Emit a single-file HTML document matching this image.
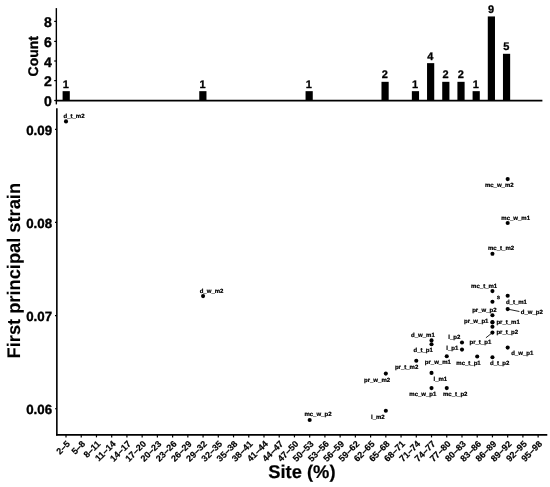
<!DOCTYPE html>
<html lang="en"><head><meta charset="utf-8"><title>Site (%) vs First principal strain</title>
<style>html,body{margin:0;padding:0;background:#fff}body{width:550px;height:487px;overflow:hidden}svg{display:block}text{font-family:"Liberation Sans",sans-serif;font-weight:bold;fill:#000;text-rendering:geometricPrecision;stroke:#000;stroke-width:.3px;stroke-linejoin:round}.s{stroke-width:.24px}.t{stroke-width:.1px}.t2{stroke-width:.2px}.k{stroke-width:.38px}.x{stroke-width:.18px}</style></head><body>
<svg width="550" height="487" viewBox="0 0 550 487">
<rect width="550" height="487" fill="#fff"/>
<g id="top">
<line x1="56.35" y1="8.1" x2="56.35" y2="104.4" stroke="#000" stroke-width="1.4"/>
<line x1="55.8" y1="100.6" x2="542.4" y2="100.6" stroke="#000" stroke-width="1.8"/>
<line x1="54.2" y1="100.5" x2="56.35" y2="100.5" stroke="#000" stroke-width="1.2"/>
<text class="k" x="51.8" y="106.0" font-size="14" text-anchor="end">0</text>
<line x1="54.2" y1="80.6" x2="56.35" y2="80.6" stroke="#000" stroke-width="1.2"/>
<text class="k" x="51.8" y="86.1" font-size="14" text-anchor="end">2</text>
<line x1="54.2" y1="61.0" x2="56.35" y2="61.0" stroke="#000" stroke-width="1.2"/>
<text class="k" x="51.8" y="66.5" font-size="14" text-anchor="end">4</text>
<line x1="54.2" y1="41.4" x2="56.35" y2="41.4" stroke="#000" stroke-width="1.2"/>
<text class="k" x="51.8" y="46.9" font-size="14" text-anchor="end">6</text>
<line x1="54.2" y1="21.4" x2="56.35" y2="21.4" stroke="#000" stroke-width="1.2"/>
<text class="k" x="51.8" y="26.9" font-size="14" text-anchor="end">8</text>
<rect x="62.60" y="91.16" width="7.2" height="9.34" fill="#000"/>
<text x="65.90" y="87.66" font-size="11" text-anchor="middle">1</text>
<rect x="199.27" y="91.16" width="7.2" height="9.34" fill="#000"/>
<text x="202.56" y="87.66" font-size="11" text-anchor="middle">1</text>
<rect x="305.56" y="91.16" width="7.2" height="9.34" fill="#000"/>
<text x="308.86" y="87.66" font-size="11" text-anchor="middle">1</text>
<rect x="381.48" y="81.82" width="7.2" height="18.68" fill="#000"/>
<text x="384.78" y="78.32" font-size="11" text-anchor="middle">2</text>
<rect x="411.85" y="91.16" width="7.2" height="9.34" fill="#000"/>
<text x="415.15" y="87.66" font-size="11" text-anchor="middle">1</text>
<rect x="427.04" y="63.14" width="7.2" height="37.36" fill="#000"/>
<text x="430.34" y="59.64" font-size="11" text-anchor="middle">4</text>
<rect x="442.22" y="81.82" width="7.2" height="18.68" fill="#000"/>
<text x="445.52" y="78.32" font-size="11" text-anchor="middle">2</text>
<rect x="457.41" y="81.82" width="7.2" height="18.68" fill="#000"/>
<text x="460.71" y="78.32" font-size="11" text-anchor="middle">2</text>
<rect x="472.59" y="91.16" width="7.2" height="9.34" fill="#000"/>
<text x="475.89" y="87.66" font-size="11" text-anchor="middle">1</text>
<rect x="487.78" y="16.44" width="7.2" height="84.06" fill="#000"/>
<text x="491.08" y="12.94" font-size="11" text-anchor="middle">9</text>
<rect x="502.96" y="53.80" width="7.2" height="46.70" fill="#000"/>
<text x="506.26" y="50.30" font-size="11" text-anchor="middle">5</text>
<text transform="translate(38.4,56.2) rotate(-90)" font-size="14" text-anchor="middle">Count</text>
</g>
<g id="bottom">
<line x1="56.85" y1="108.2" x2="56.85" y2="435.5" stroke="#000" stroke-width="1.6"/>
<line x1="56.05" y1="434.8" x2="547.3" y2="434.8" stroke="#000" stroke-width="1.7"/>
<line x1="55.0" y1="129.3" x2="57" y2="129.3" stroke="#000" stroke-width="1.2"/>
<text class="k" x="52.1" y="134.80" font-size="13.3" text-anchor="end">0.09</text>
<line x1="55.0" y1="222.45" x2="57" y2="222.45" stroke="#000" stroke-width="1.2"/>
<text class="k" x="52.1" y="227.95" font-size="13.3" text-anchor="end">0.08</text>
<line x1="55.0" y1="315.6" x2="57" y2="315.6" stroke="#000" stroke-width="1.2"/>
<text class="k" x="52.1" y="321.10" font-size="13.3" text-anchor="end">0.07</text>
<line x1="55.0" y1="408.75" x2="57" y2="408.75" stroke="#000" stroke-width="1.2"/>
<text class="k" x="52.1" y="414.25" font-size="13.3" text-anchor="end">0.06</text>
<line x1="66.00" y1="434.75" x2="66.00" y2="437.4" stroke="#000" stroke-width="1.2"/>
<text transform="translate(70.60,444.40) rotate(-45)" class="x" font-size="9.05" text-anchor="end">2–5</text>
<line x1="81.23" y1="434.75" x2="81.23" y2="437.4" stroke="#000" stroke-width="1.2"/>
<text transform="translate(85.83,444.40) rotate(-45)" class="x" font-size="9.05" text-anchor="end">5–8</text>
<line x1="96.46" y1="434.75" x2="96.46" y2="437.4" stroke="#000" stroke-width="1.2"/>
<text transform="translate(101.06,444.40) rotate(-45)" class="x" font-size="9.05" text-anchor="end">8–11</text>
<line x1="111.69" y1="434.75" x2="111.69" y2="437.4" stroke="#000" stroke-width="1.2"/>
<text transform="translate(116.29,444.40) rotate(-45)" class="x" font-size="9.05" text-anchor="end">11–14</text>
<line x1="126.92" y1="434.75" x2="126.92" y2="437.4" stroke="#000" stroke-width="1.2"/>
<text transform="translate(131.52,444.40) rotate(-45)" class="x" font-size="9.05" text-anchor="end">14–17</text>
<line x1="142.15" y1="434.75" x2="142.15" y2="437.4" stroke="#000" stroke-width="1.2"/>
<text transform="translate(146.75,444.40) rotate(-45)" class="x" font-size="9.05" text-anchor="end">17–20</text>
<line x1="157.38" y1="434.75" x2="157.38" y2="437.4" stroke="#000" stroke-width="1.2"/>
<text transform="translate(161.98,444.40) rotate(-45)" class="x" font-size="9.05" text-anchor="end">20–23</text>
<line x1="172.61" y1="434.75" x2="172.61" y2="437.4" stroke="#000" stroke-width="1.2"/>
<text transform="translate(177.21,444.40) rotate(-45)" class="x" font-size="9.05" text-anchor="end">23–26</text>
<line x1="187.84" y1="434.75" x2="187.84" y2="437.4" stroke="#000" stroke-width="1.2"/>
<text transform="translate(192.44,444.40) rotate(-45)" class="x" font-size="9.05" text-anchor="end">26–29</text>
<line x1="203.07" y1="434.75" x2="203.07" y2="437.4" stroke="#000" stroke-width="1.2"/>
<text transform="translate(207.67,444.40) rotate(-45)" class="x" font-size="9.05" text-anchor="end">29–32</text>
<line x1="218.30" y1="434.75" x2="218.30" y2="437.4" stroke="#000" stroke-width="1.2"/>
<text transform="translate(222.90,444.40) rotate(-45)" class="x" font-size="9.05" text-anchor="end">32–35</text>
<line x1="233.53" y1="434.75" x2="233.53" y2="437.4" stroke="#000" stroke-width="1.2"/>
<text transform="translate(238.13,444.40) rotate(-45)" class="x" font-size="9.05" text-anchor="end">35–38</text>
<line x1="248.76" y1="434.75" x2="248.76" y2="437.4" stroke="#000" stroke-width="1.2"/>
<text transform="translate(253.36,444.40) rotate(-45)" class="x" font-size="9.05" text-anchor="end">38–41</text>
<line x1="263.99" y1="434.75" x2="263.99" y2="437.4" stroke="#000" stroke-width="1.2"/>
<text transform="translate(268.59,444.40) rotate(-45)" class="x" font-size="9.05" text-anchor="end">41–44</text>
<line x1="279.22" y1="434.75" x2="279.22" y2="437.4" stroke="#000" stroke-width="1.2"/>
<text transform="translate(283.82,444.40) rotate(-45)" class="x" font-size="9.05" text-anchor="end">44–47</text>
<line x1="294.45" y1="434.75" x2="294.45" y2="437.4" stroke="#000" stroke-width="1.2"/>
<text transform="translate(299.05,444.40) rotate(-45)" class="x" font-size="9.05" text-anchor="end">47–50</text>
<line x1="309.68" y1="434.75" x2="309.68" y2="437.4" stroke="#000" stroke-width="1.2"/>
<text transform="translate(314.28,444.40) rotate(-45)" class="x" font-size="9.05" text-anchor="end">50–53</text>
<line x1="324.91" y1="434.75" x2="324.91" y2="437.4" stroke="#000" stroke-width="1.2"/>
<text transform="translate(329.51,444.40) rotate(-45)" class="x" font-size="9.05" text-anchor="end">53–56</text>
<line x1="340.14" y1="434.75" x2="340.14" y2="437.4" stroke="#000" stroke-width="1.2"/>
<text transform="translate(344.74,444.40) rotate(-45)" class="x" font-size="9.05" text-anchor="end">56–59</text>
<line x1="355.37" y1="434.75" x2="355.37" y2="437.4" stroke="#000" stroke-width="1.2"/>
<text transform="translate(359.97,444.40) rotate(-45)" class="x" font-size="9.05" text-anchor="end">59–62</text>
<line x1="370.60" y1="434.75" x2="370.60" y2="437.4" stroke="#000" stroke-width="1.2"/>
<text transform="translate(375.20,444.40) rotate(-45)" class="x" font-size="9.05" text-anchor="end">62–65</text>
<line x1="385.83" y1="434.75" x2="385.83" y2="437.4" stroke="#000" stroke-width="1.2"/>
<text transform="translate(390.43,444.40) rotate(-45)" class="x" font-size="9.05" text-anchor="end">65–68</text>
<line x1="401.06" y1="434.75" x2="401.06" y2="437.4" stroke="#000" stroke-width="1.2"/>
<text transform="translate(405.66,444.40) rotate(-45)" class="x" font-size="9.05" text-anchor="end">68–71</text>
<line x1="416.29" y1="434.75" x2="416.29" y2="437.4" stroke="#000" stroke-width="1.2"/>
<text transform="translate(420.89,444.40) rotate(-45)" class="x" font-size="9.05" text-anchor="end">71–74</text>
<line x1="431.52" y1="434.75" x2="431.52" y2="437.4" stroke="#000" stroke-width="1.2"/>
<text transform="translate(436.12,444.40) rotate(-45)" class="x" font-size="9.05" text-anchor="end">74–77</text>
<line x1="446.75" y1="434.75" x2="446.75" y2="437.4" stroke="#000" stroke-width="1.2"/>
<text transform="translate(451.35,444.40) rotate(-45)" class="x" font-size="9.05" text-anchor="end">77–80</text>
<line x1="461.98" y1="434.75" x2="461.98" y2="437.4" stroke="#000" stroke-width="1.2"/>
<text transform="translate(466.58,444.40) rotate(-45)" class="x" font-size="9.05" text-anchor="end">80–83</text>
<line x1="477.21" y1="434.75" x2="477.21" y2="437.4" stroke="#000" stroke-width="1.2"/>
<text transform="translate(481.81,444.40) rotate(-45)" class="x" font-size="9.05" text-anchor="end">83–86</text>
<line x1="492.44" y1="434.75" x2="492.44" y2="437.4" stroke="#000" stroke-width="1.2"/>
<text transform="translate(497.04,444.40) rotate(-45)" class="x" font-size="9.05" text-anchor="end">86–89</text>
<line x1="507.67" y1="434.75" x2="507.67" y2="437.4" stroke="#000" stroke-width="1.2"/>
<text transform="translate(512.27,444.40) rotate(-45)" class="x" font-size="9.05" text-anchor="end">89–92</text>
<line x1="522.90" y1="434.75" x2="522.90" y2="437.4" stroke="#000" stroke-width="1.2"/>
<text transform="translate(527.50,444.40) rotate(-45)" class="x" font-size="9.05" text-anchor="end">92–95</text>
<line x1="538.13" y1="434.75" x2="538.13" y2="437.4" stroke="#000" stroke-width="1.2"/>
<text transform="translate(542.73,444.40) rotate(-45)" class="x" font-size="9.05" text-anchor="end">95–98</text>
<text class="t" transform="translate(19.9,270.7) rotate(-90)" font-size="18.25" text-anchor="middle">First principal strain</text>
<text class="t2" x="301.9" y="478.4" font-size="18.35" text-anchor="middle">Site (%)</text>
<line x1="507.67" y1="309.1" x2="519.4" y2="311.5" stroke="#000" stroke-width="0.85"/>
<line x1="492.44" y1="332.6" x2="485.9" y2="337.8" stroke="#000" stroke-width="0.85"/>
<circle cx="66.00" cy="121.4" r="2.05" fill="#000"/>
<circle cx="203.07" cy="296.1" r="2.05" fill="#000"/>
<circle cx="309.68" cy="420.0" r="2.05" fill="#000"/>
<circle cx="385.83" cy="373.6" r="2.05" fill="#000"/>
<circle cx="385.83" cy="410.8" r="2.05" fill="#000"/>
<circle cx="416.29" cy="360.7" r="2.05" fill="#000"/>
<circle cx="431.52" cy="340.4" r="2.05" fill="#000"/>
<circle cx="431.52" cy="344.3" r="2.05" fill="#000"/>
<circle cx="431.52" cy="372.9" r="2.05" fill="#000"/>
<circle cx="431.52" cy="388.1" r="2.05" fill="#000"/>
<circle cx="446.75" cy="356.3" r="2.05" fill="#000"/>
<circle cx="446.75" cy="388.1" r="2.05" fill="#000"/>
<circle cx="461.98" cy="342.5" r="2.05" fill="#000"/>
<circle cx="461.98" cy="349.6" r="2.05" fill="#000"/>
<circle cx="477.21" cy="356.5" r="2.05" fill="#000"/>
<circle cx="492.44" cy="253.8" r="2.05" fill="#000"/>
<circle cx="492.44" cy="291.1" r="2.05" fill="#000"/>
<circle cx="492.44" cy="301.8" r="2.05" fill="#000"/>
<circle cx="492.44" cy="315.3" r="2.05" fill="#000"/>
<circle cx="492.44" cy="322.0" r="2.05" fill="#000"/>
<circle cx="492.44" cy="322.5" r="2.05" fill="#000"/>
<circle cx="492.44" cy="326.8" r="2.05" fill="#000"/>
<circle cx="492.44" cy="332.6" r="2.05" fill="#000"/>
<circle cx="492.44" cy="357.3" r="2.05" fill="#000"/>
<circle cx="507.67" cy="179.1" r="2.05" fill="#000"/>
<circle cx="507.67" cy="223.0" r="2.05" fill="#000"/>
<circle cx="507.67" cy="295.7" r="2.05" fill="#000"/>
<circle cx="507.67" cy="309.1" r="2.05" fill="#000"/>
<circle cx="507.67" cy="347.6" r="2.05" fill="#000"/>
<text class="s" x="63.5" y="118.0" font-size="6.02">d_t_m2</text>
<text class="s" x="199.7" y="292.7" font-size="6.02">d_w_m2</text>
<text class="s" x="304.4" y="416.4" font-size="6.02">mc_w_p2</text>
<text class="s" x="364.0" y="381.6" font-size="6.02">pr_w_m2</text>
<text class="s" x="371.0" y="418.6" font-size="6.02">l_m2</text>
<text class="s" x="394.9" y="368.9" font-size="6.02">pr_t_m2</text>
<text class="s" x="411.0" y="336.7" font-size="6.02">d_w_m1</text>
<text class="s" x="413.5" y="351.5" font-size="6.02">d_t_p1</text>
<text class="s" x="433.5" y="381.2" font-size="6.02">l_m1</text>
<text class="s" x="409.3" y="396.3" font-size="6.02">mc_w_p1</text>
<text class="s" x="424.8" y="364.3" font-size="6.02">pr_w_m1</text>
<text class="s" x="443.0" y="396.3" font-size="6.02">mc_t_p2</text>
<text class="s" x="448.3" y="338.6" font-size="6.02">l_p2</text>
<text class="s" x="446.3" y="350.0" font-size="6.02">l_p1</text>
<text class="s" x="456.3" y="364.6" font-size="6.02">mc_t_p1</text>
<text class="s" x="488.0" y="250.3" font-size="6.02">mc_t_m2</text>
<text class="s" x="471.1" y="287.5" font-size="6.02">mc_t_m1</text>
<text class="s" x="496.8" y="299.2" font-size="6.02">s</text>
<text class="s" x="472.2" y="312.0" font-size="6.02">pr_w_p2</text>
<text class="s" x="464.0" y="322.8" font-size="6.02">pr_w_p1</text>
<text class="s" x="496.4" y="324.0" font-size="6.02">pr_t_m1</text>
<text class="s" x="496.4" y="333.6" font-size="6.02">pr_t_p2</text>
<text class="s" x="469.5" y="343.5" font-size="6.02">pr_t_p1</text>
<text class="s" x="490.0" y="365.1" font-size="6.02">d_t_p2</text>
<text class="s" x="484.9" y="187.4" font-size="6.02">mc_w_m2</text>
<text class="s" x="501.3" y="219.5" font-size="6.02">mc_w_m1</text>
<text class="s" x="505.9" y="303.9" font-size="6.02">d_t_m1</text>
<text class="s" x="520.8" y="313.5" font-size="6.02">d_w_p2</text>
<text class="s" x="511.2" y="355.2" font-size="6.02">d_w_p1</text>
</g>
</svg></body></html>
